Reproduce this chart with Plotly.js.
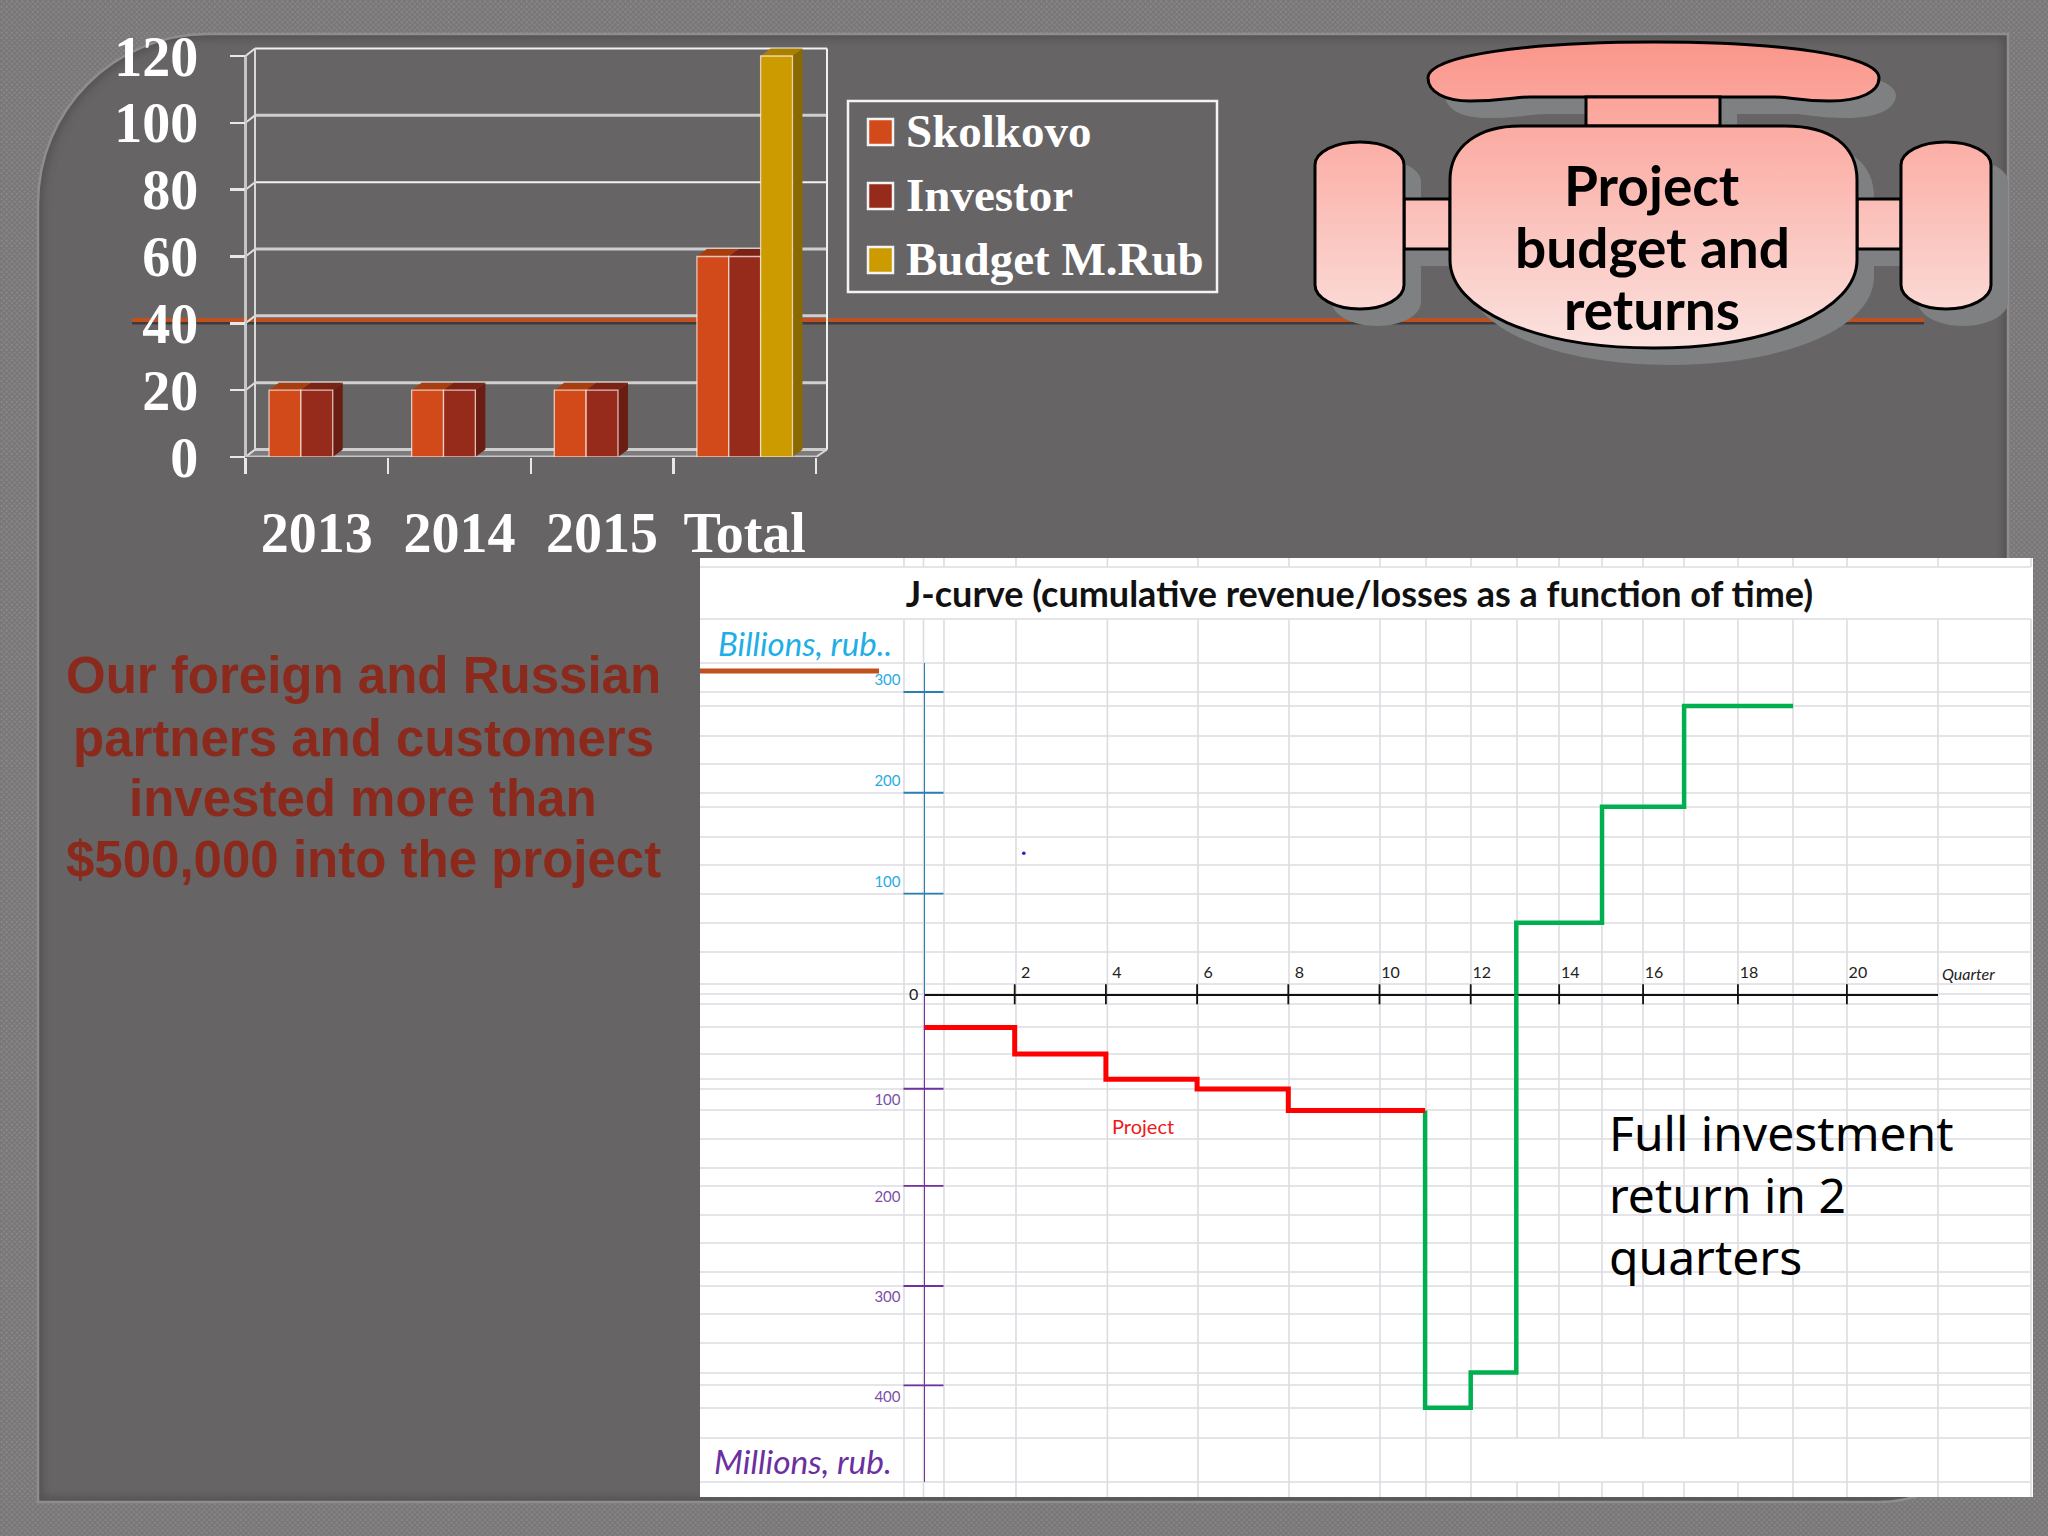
<!DOCTYPE html>
<html><head><meta charset="utf-8">
<script src="https://cdn.plot.ly/plotly-3.0.1.min.js"></script>
<style>html,body{margin:0;padding:0;background:#7d7a7c}</style>
</head><body><div id="chart" style="width:2048px;height:1536px"></div>
<script>
// ---- Budget chart data
const budgetCategories = ['2013','2014','2015','Total'];
const skolkovo = [20,20,20,60];
const investor = [20,20,20,60];
const budgetMRub = [null,null,null,120];
const budgetTicks = [0,20,40,60,80,100,120];
const seriesNames = ['Skolkovo','Investor','Budget M.Rub'];
// ---- J-curve data (axes of the source are hand drawn, hence uneven tick positions)
const quarterTickPos = [2,4,6,8,10,12,13.94,15.78,17.86,20.25];
const quarterTickText = ['2','4','6','8','10','12','14','16','18','20'];
const billionTicks = [100,200,300];
const millionTickPos = [96.6,196,298.4,400];
const millionTickText = ['100','200','300','400'];
const projectQ = [0,2,4,6,8,11];
const projectLoss = [34,61,87,97,119,119];
const lowGreenQ = [11,11,12,13];
const lowGreenLoss = [119,423,387,0];
const highGreenQ = [13,13,14.88,16.68,19.07];
const highGreenRev = [0,71,186,286,286];
const strayQ = [2.2];
const strayRev = [140];
// ---- Texts
const partnersLines = ['Our foreign and Russian','partners and customers','invested more than','$500,000 into the project'];
const badgeLines = ['Project','budget and','returns'];
const returnLines = ['Full investment','return in 2','quarters'];
// ---- Spreadsheet grid behind the J-curve (screen pixels of decoration)
const sheetCols = [904,923.5,944,1016,1107.4,1198,1289,1380,1426,1471,1517,1559,1602,1643,1684,1738,1793,1847,1938,2031];
const sheetRows = [567,619,663,692,706,736,764,793,807,837,865,894,923,952,984,994,1004,1027,1054,1079,1089,1110,1139,1168,1186,1215,1243,1272,1286,1314,1343,1373,1385,1408,1438,1482];
const colsWithGap = [1517,1559,1602,1643,1684,1738];

const W=2048,H=1536;
const px=x=>x/W, py=y=>1-y/H;
const colors=['#D2491A','#962B1C','#CC9B00'];
const sideColors=['#A33A12','#6A1D12','#8A6A00'];
const topColors=['#A83E10','#7A2214','#A98000'];

// background as svg (texture, panel)
const panelPath='M38,204 C38,110 114,34 208,34 L2008,34 L2008,1372 C2008,1444 1950,1502 1878,1502 L38,1502 Z';
const bgSvg=`<svg xmlns="http://www.w3.org/2000/svg" width="${W}" height="${H}" viewBox="0 0 ${W} ${H}">
<defs><pattern id="p" width="5.2" height="5.2" patternUnits="userSpaceOnUse"><rect width="5.2" height="5.2" fill="#7a7779"/><circle cx="1.5" cy="1.5" r="1.1" fill="#8c898b"/><circle cx="4.1" cy="4.1" r="1.1" fill="#8a8789"/></pattern>
<filter id="b" x="-5%" y="-5%" width="110%" height="110%"><feGaussianBlur stdDeviation="5"/></filter>
<clipPath id="c"><path d="${panelPath}"/></clipPath></defs>
<rect width="${W}" height="${H}" fill="url(#p)"/>
<path d="${panelPath}" fill="#676465"/>
<g clip-path="url(#c)"><path d="${panelPath}" fill="none" stroke="#4f4d4e" stroke-width="8" filter="url(#b)"/></g>
<path d="${panelPath}" fill="none" stroke="#8f8d8f" stroke-width="2.5"/>
</svg>`;

// pink figure
const pinkParts=[
 'M1428,78 C1428,55 1530,42 1654,42 C1780,42 1879,55 1879,78 C1879,92 1860,101 1830,101 C1800,101 1790,97 1775,97 L1530,97 C1515,97 1500,101 1470,101 C1445,101 1428,92 1428,78 Z',
 'M1586,97 H1720 V126 H1586 Z',
 'M1404,199 H1450 V249 H1404 Z',
 'M1857,199 H1901 V249 H1857 Z',
 'M1315,165 C1315,152 1335,142 1360,142 C1385,142 1404,152 1404,165 L1404,285 C1404,298 1385,309 1360,309 C1335,309 1315,298 1315,285 Z',
 'M1901,165 C1901,152 1921,142 1946,142 C1971,142 1991,152 1991,165 L1991,285 C1991,298 1971,309 1946,309 C1921,309 1901,298 1901,285 Z',
 'M1450,180 C1450,145 1480,126 1520,126 L1785,126 C1830,126 1857,145 1857,180 L1857,260 C1857,310 1770,348 1654,348 C1535,348 1450,310 1450,260 Z'
];
const fgSvg=`<svg xmlns="http://www.w3.org/2000/svg" width="${W}" height="${H}" viewBox="0 0 ${W} ${H}">
<defs><linearGradient id="g" gradientUnits="userSpaceOnUse" x1="0" y1="42" x2="0" y2="348"><stop offset="0" stop-color="#FB968B"/><stop offset="1" stop-color="#FBE2DF"/></linearGradient></defs>
<g transform="translate(17,17)" fill="#7E8081">${pinkParts.map(d=>`<path d="${d}"/>`).join('')}</g>
${pinkParts.map(d=>`<path d="${d}" fill="url(#g)" stroke="#000" stroke-width="3"/>`).join('')}
</svg>`;
const uri=s=>'data:image/svg+xml;charset=utf-8,'+encodeURIComponent(s);

// ---- shapes
const shapes=[];
const line=(x0,y0,x1,y1,color,width,extra)=>shapes.push(Object.assign({type:'line',xref:'paper',yref:'paper',x0:px(x0),y0:py(y0),x1:px(x1),y1:py(y1),line:{color,width},layer:'below'},extra||{}));
// orange rule with shadow
line(132,323,1924,323,'#3d3b3c',3);
line(132,320,1924,320,'#C0501F',4);
// 3D walls of the bar chart, driven by the y axis ticks
const depthY=2.24, depthCat=0.07;
const wall=(xa,va,xb,vb,color,width)=>shapes.push({type:'line',xref:'paper',yref:'y',x0:px(xa),y0:va,x1:px(xb),y1:vb,line:{color,width},layer:'below'});
shapes.push({type:'path',xref:'paper',yref:'y',layer:'below',fillcolor:'#7d7b7c',line:{width:0},
  path:`M${px(245.5)},0 L${px(816)},0 L${px(827)},${depthY} L${px(255)},${depthY} Z`});
budgetTicks.forEach(v=>{
  wall(255,v+depthY,827,v+depthY,v===120||v===80?'#f2f2f2':'#cfcfcf',v===120||v===80?2:3);
  wall(245.5,v,255,v+depthY,'#e0e0e0',2);
});
wall(255,depthY,255,120+depthY,'#d8d8d8',2);
wall(827,depthY,827,120+depthY,'#f0f0f0',2);
wall(245.5,0,245.5,120,'#c6c6c6',3);
wall(245.5,0,816,0,'#c6c6c6',3);
wall(816,0,827,depthY,'#d8d8d8',2);
// 3D faces of the bars, computed from the series values
const gap=0.33, barW=(1-gap)/3;
[skolkovo,investor,budgetMRub].forEach((vals,s)=>vals.forEach((v,i)=>{
  if(v==null) return;
  const x0=i-0.5+gap/2+s*barW, x1=x0+barW;
  shapes.push({type:'path',xref:'x',yref:'y',layer:'below',fillcolor:sideColors[s],line:{width:0},
    path:`M${x1},0 L${x1+depthCat},${depthY} L${x1+depthCat},${v+depthY} L${x1},${v} Z`});
  shapes.push({type:'path',xref:'x',yref:'y',layer:'below',fillcolor:topColors[s],line:{width:0},
    path:`M${x0},${v} L${x0+depthCat},${v+depthY} L${x1+depthCat},${v+depthY} L${x1},${v} Z`});
}));
// legend box and swatches
shapes.push({type:'rect',xref:'paper',yref:'paper',layer:'below',x0:px(848),x1:px(1217),y0:py(101),y1:py(292),line:{color:'#f4f4f4',width:2.5},fillcolor:'rgba(0,0,0,0)'});
[119,183,247].forEach((y,i)=>shapes.push({type:'rect',xref:'paper',yref:'paper',layer:'below',x0:px(868),x1:px(893),y0:py(y),y1:py(y+26),line:{color:'#f4f4f4',width:2.5},fillcolor:colors[i]}));
// white sheet + grid
shapes.push({type:'rect',xref:'paper',yref:'paper',layer:'below',x0:px(700),x1:px(2033),y0:py(558),y1:py(1497),line:{width:0},fillcolor:'#ffffff'});
const gridC='#dcdce2';
sheetRows.forEach(y=>line(700,y,2031,y,gridC,1.6));
sheetCols.forEach(x=>{
  line(x,558,x,567,gridC,1.6);
  if(colsWithGap.includes(x)){ line(x,619,x,1438,gridC,1.6); line(x,1482,x,1497,gridC,1.6); }
  else line(x,619,x,1497,gridC,1.6);
});
// rule continuing over the sheet
line(700,671,879,671,'#C0501F',5);

// ---- annotations
const note=(text,x,y,size,color,o)=>Object.assign({text,xref:'paper',yref:'paper',x:px(x),y:py(y),showarrow:false,xanchor:'left',yanchor:'middle',align:'left',font:{family:'Lato',size,color}},o||{});
const serif='Liberation Serif';
const annotations=[
 ...seriesNames.map((n,i)=>note(n,904,[131,195,259][i],47,'#ffffff',{font:{family:serif,size:47,color:'#ffffff',weight:'bold'}})),
 ...partnersLines.map((t,i)=>note(t,363,[675,738,798,859][i],51,'#8B2A1C',{xanchor:'center',align:'center',font:{family:'Liberation Sans',size:51,color:'#8B2A1C',weight:'bold'}})),
 ...badgeLines.map((t,i)=>note(t,1652,[185,247,309][i],55,'#000',{xanchor:'center',align:'center',font:{family:'Lato',size:55,color:'#000',weight:'bold'}})),
 ...returnLines.map((t,i)=>note(t,1607,[1132,1194,1256][i],48,'#000',{font:{family:'Noto Sans',size:48,color:'#000'}})),
 note('<i>Billions, rub..</i>',716,643,33,'#1FAEE6'),
 note('<i>Millions, rub.</i>',712,1461,33.5,'#6B2FA0'),
 note('<i>Quarter</i>',1940,973,16,'#222'),
 note('0',920,993,16,'#222',{xanchor:'right'}),
 note('Project',1110,1126,20,'#F01818'),
];

// ---- traces
const bar=(name,y,c)=>({type:'bar',name,x:budgetCategories,y,xaxis:'x',yaxis:'y',marker:{color:c,line:{color:'rgba(255,236,230,0.75)',width:1.3}},showlegend:false,hoverinfo:'skip'});
const stepT=(x,y,ya,color,width)=>({type:'scatter',mode:'lines',x,y,xaxis:'x2',yaxis:ya,line:{shape:'hv',color,width},showlegend:false,hoverinfo:'skip',cliponaxis:false});
const tickT=(x,y,ya,sym,size,color)=>({type:'scatter',mode:'markers',x,y,xaxis:'x2',yaxis:ya,marker:{symbol:sym,size,color,line:{color,width:1.8}},showlegend:false,hoverinfo:'skip',cliponaxis:false});
const traces=[
 bar(seriesNames[0],skolkovo,colors[0]),
 bar(seriesNames[1],investor,colors[1]),
 bar(seriesNames[2],budgetMRub,colors[2]),
 tickT(quarterTickPos,quarterTickPos.map(()=>0),'y2','line-ns-open',14.3,'#111'),
 tickT(billionTicks.map(()=>0),billionTicks,'y2','line-ew-open',28.6,'#2A7FB5'),
 tickT(millionTickPos.map(()=>0),millionTickPos,'y3','line-ew-open',28.6,'#7030A0'),
 stepT(lowGreenQ,lowGreenLoss,'y3','#00B050',4.5),
 stepT(highGreenQ,highGreenRev,'y2','#00B050',4.5),
 stepT(projectQ,projectLoss,'y3','#FF0000',5),
 {type:'scatter',mode:'markers',x:strayQ,y:strayRev,xaxis:'x2',yaxis:'y2',marker:{color:'#1f1fd0',size:3.5},showlegend:false,hoverinfo:'skip'},
];

const barPxPerUnit=(457-56)/120;
const layout={
 width:W,height:H,margin:{l:0,r:0,t:0,b:0},paper_bgcolor:'#7d7a7c',plot_bgcolor:'rgba(0,0,0,0)',
 showlegend:false,hovermode:false,
 barmode:'group',bargap:gap,bargroupgap:0,
 title:{text:'J-curve (cumulative revenue/losses as a function of time)',x:px(1359.5),xanchor:'center',y:py(594),yanchor:'middle',xref:'paper',yref:'paper',font:{family:'Lato',size:36,color:'#111',weight:'bold'}},
 images:[
  {source:uri(bgSvg),xref:'paper',yref:'paper',x:0,y:1,sizex:1,sizey:1,sizing:'stretch',xanchor:'left',yanchor:'top',layer:'below'},
  {source:uri(fgSvg),xref:'paper',yref:'paper',x:0,y:1,sizex:1,sizey:1,sizing:'stretch',xanchor:'left',yanchor:'top',layer:'above'},
 ],
 xaxis:{type:'category',domain:[px(245.5),px(816)],range:[-0.5,3.5],anchor:'y',tickson:'boundaries',ticks:'outside',ticklen:16,tickwidth:2.5,tickcolor:'#e8e8e8',
   showgrid:false,zeroline:false,showline:false,tickfont:{family:serif,size:56,color:'#fff',weight:'bold'},ticklabelstandoff:38,fixedrange:true},
 yaxis:{domain:[py(457),py(457-130*barPxPerUnit)],range:[0,130],anchor:'x',tickmode:'array',tickvals:budgetTicks,ticktext:budgetTicks.map(String),ticks:'outside',ticklen:15,tickwidth:2.5,tickcolor:'#e8e8e8',
   showgrid:false,zeroline:false,showline:false,tickfont:{family:serif,size:56,color:'#fff',weight:'bold'},ticklabelstandoff:20,fixedrange:true},
 xaxis2:{domain:[px(923.5),px(1938)],range:[0,(1938-923.5)/45.6],anchor:'free',position:py(994.3),side:'top',tickmode:'array',tickvals:quarterTickPos,ticktext:quarterTickText,ticks:'outside',ticklen:10,tickcolor:'rgba(0,0,0,0)',
   showgrid:false,zeroline:false,showline:true,linecolor:'#111',linewidth:1.8,layer:'below traces',tickfont:{family:'Lato',size:16,color:'#222'},ticklabelshift:11,fixedrange:true},
 yaxis2:{domain:[py(994.3),py(663)],range:[0,(994.3-663)/1.0077],anchor:'free',position:px(923.5),side:'left',tickmode:'array',tickvals:billionTicks,ticktext:billionTicks.map(String),ticks:'outside',ticklen:20,tickcolor:'rgba(0,0,0,0)',
   showgrid:false,zeroline:false,showline:true,linecolor:'#2A7FB5',linewidth:1.8,tickfont:{family:'Lato',size:15,color:'#29ABE2'},ticklabelshift:-12,fixedrange:true},
 yaxis3:{domain:[py(1482),py(994.3)],range:[(1482-994.3)/0.9775,0],anchor:'free',position:px(923.5),side:'left',tickmode:'array',tickvals:millionTickPos,ticktext:millionTickText,ticks:'outside',ticklen:20,tickcolor:'rgba(0,0,0,0)',
   showgrid:false,zeroline:false,showline:true,linecolor:'#7030A0',linewidth:1.8,tickfont:{family:'Lato',size:15,color:'#7B4FA8'},ticklabelshift:-11,fixedrange:true},
 shapes,annotations
};
Plotly.newPlot('chart',traces,layout,{displayModeBar:false,staticPlot:true});
</script></body></html>
